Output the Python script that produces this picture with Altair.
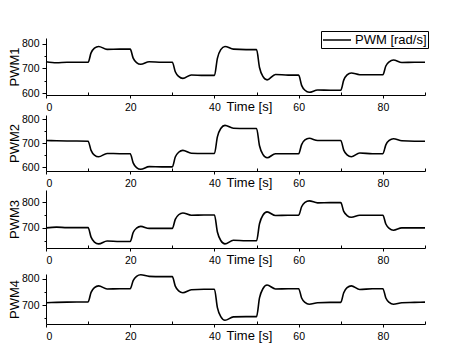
import altair as alt
import pandas as pd

time_s = [0, 2.5, 5,
          10, 10.7, 11.5, 12.5, 14.5, 17.5,
          20, 20.7, 21.5, 22.5, 24.5, 27.5,
          30, 30.7, 31.5, 32.5, 34.5, 37.5,
          40, 40.7, 41.5, 42.5, 44.5, 47.5,
          50, 50.7, 51.5, 52.5, 54.5, 57.5,
          60, 60.7, 61.5, 62.5, 64.5, 67.5,
          70, 70.7, 71.5, 72.5, 74.5, 77.5,
          80, 80.7, 81.5, 82.5, 84.5, 87.5,
          90]

pwm1 = [727, 723, 725,
        725, 763, 782, 789, 777, 778,
        778, 742, 724, 717, 727, 725,
        725, 687, 668, 660, 674, 672,
        672, 741, 776, 789, 778, 776,
        776, 704, 668, 654, 676, 673,
        673, 632, 612, 604, 613, 612,
        612, 653, 674, 682, 675, 675,
        675, 710, 727, 734, 724, 725,
        725]

pwm2 = [712, 711, 710,
        709, 671, 651, 644, 658, 657,
        657, 619, 599, 592, 603, 602,
        602, 643, 663, 671, 659, 658,
        658, 727, 762, 775, 763, 762,
        762, 690, 654, 640, 657, 657,
        657, 695, 714, 721, 712, 712,
        712, 672, 652, 644, 660, 657,
        657, 694, 712, 719, 711, 709,
        709]

pwm3 = [700, 703, 701,
        701, 664, 645, 638, 649, 647,
        647, 682, 699, 706, 698, 698,
        698, 733, 751, 758, 749, 750,
        750, 684, 651, 638, 652, 650,
        650, 716, 749, 762, 748, 749,
        749, 782, 799, 805, 797, 798,
        798, 764, 748, 741, 749, 749,
        749, 715, 698, 691, 700, 700,
        700]

pwm4 = [709, 710, 711,
        712, 748, 766, 773, 761, 762,
        762, 793, 809, 815, 809, 808,
        808, 772, 754, 747, 758, 760,
        760, 690, 656, 642, 655, 656,
        656, 727, 762, 776, 761, 762,
        762, 727, 710, 703, 709, 710,
        710, 747, 766, 773, 759, 762,
        762, 727, 710, 703, 709, 710,
        711]

panel_names = ["PWM1", "PWM2", "PWM3", "PWM4"]
y_domains = [[593, 823], [585, 818], [622, 847], [628, 818]]
y_ticks = [[600, 650, 700, 750, 800], [600, 650, 700, 750, 800],
           [650, 700, 750, 800], [650, 700, 750, 800]]
x_major = [0, 20, 40, 60, 80]
x_minor = [10, 30, 50, 70, 90]
series_name = "PWM [rad/s]"

FONT = "Liberation Sans"
W = 379
heights = [57, 56, 58, 50]


def panel(vals, name, dom, yt, h, legend=False):
    df = pd.DataFrame({"t": time_s, "v": vals, "s": series_name})
    base = alt.Chart(df)
    xaxis = alt.Axis(values=x_major, title="Time [s]", titleX=180, titleY=15,
                     titleAlign="left", titleBaseline="alphabetic", titleAngle=0,
                     tickSize=3, labelPadding=4, labelFontSize=10.5,
                     titleFontSize=13, titleFontWeight="normal")
    yaxis = alt.Axis(values=yt, title=name,
                     labelExpr="datum.value % 100 == 0 ? datum.label : ''",
                     tickSize={"condition": {"test": "datum.value % 100 == 0", "value": 4}, "value": 2},
                     labelPadding=3, labelFontSize=10.5, titleFontSize=13,
                     titleFontWeight="normal", titlePadding=0)
    x = alt.X("t:Q", scale=alt.Scale(domain=[0, 90], nice=False), axis=xaxis)
    y = alt.Y("v:Q", scale=alt.Scale(domain=dom, nice=False, zero=False), axis=yaxis)
    if legend:
        color = alt.Color("s:N", scale=alt.Scale(range=["black"]),
                          legend=alt.Legend(orient="none", legendX=275, legendY=-7,
                                            title=None, strokeColor="black", padding=1,
                                            fillColor="white", labelFont=FONT,
                                            labelFontSize=13, labelColor="black",
                                            symbolType="M-1,0H3", symbolSize=196,
                                            symbolStrokeWidth=1.5, symbolStrokeColor="black",
                                            labelOffset=17, labelLimit=200))
    else:
        color = alt.value("black")
    line = base.mark_line(strokeWidth=1.6, interpolate="monotone").encode(x=x, y=y, color=color)
    minor = base.mark_point(opacity=0).encode(
        x=alt.X("t:Q", axis=alt.Axis(orient="top", offset=-h, values=x_minor,
                                     labels=False, domain=False, tickSize=3, title=None)))
    return alt.layer(line, minor).resolve_axis(x="independent").properties(width=W, height=h)


vals_all = [pwm1, pwm2, pwm3, pwm4]
p = [panel(vals_all[i], panel_names[i], y_domains[i], y_ticks[i], heights[i], legend=(i == 0))
     for i in range(4)]

inner34 = alt.vconcat(p[2], p[3], spacing=26, bounds="flush").resolve_scale(y="independent", x="independent")
inner234 = alt.vconcat(p[1], inner34, spacing=19, bounds="flush").resolve_scale(y="independent", x="independent")
chart = alt.vconcat(p[0], inner234, spacing=20, bounds="flush").resolve_scale(
    y="independent", x="independent").properties(
    padding={"left": 0, "top": 22, "right": 5, "bottom": 5}, background="white"
).configure_view(stroke=None).configure_axis(
    domainColor="black", tickColor="black", labelColor="black", titleColor="black",
    grid=False, labelFont=FONT, titleFont=FONT, domainWidth=1, tickWidth=1
)

chart.save("out.html", embed_options={"renderer": "svg", "actions": False})
